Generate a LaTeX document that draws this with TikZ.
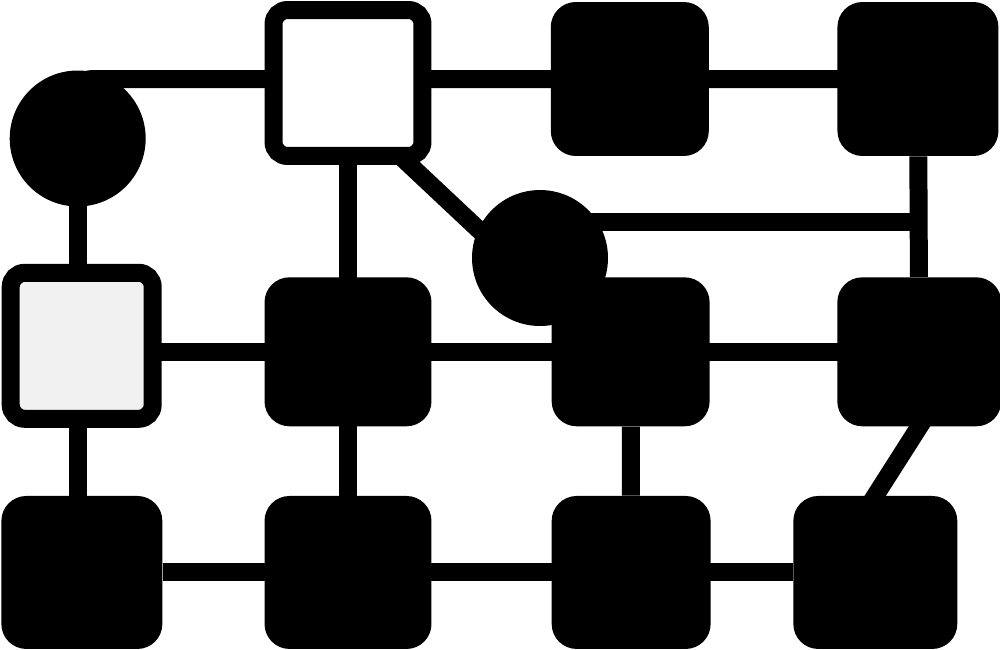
\documentclass[tikz,border=0pt]{standalone}
\usepackage{tikz}
\usetikzlibrary{positioning, backgrounds, calc}
\definecolor{cellgray}{HTML}{F1F1F1}

\begin{document}
\begin{tikzpicture}[
    x=0.02cm, y=-0.02cm,
    blk/.style={rectangle, fill=black, inner sep=0pt, minimum width=3.16cm, minimum height=2.98cm, rounded corners=0.5cm},
    hollow/.style={rectangle, draw=black, line width=0.36cm, inner sep=0pt, rounded corners=0.28cm},
    hub/.style={circle, fill=black, inner sep=0pt, minimum size=2.72cm},
    link/.style={draw=black, line width=0.36cm}
]
    \useasboundingbox (0,0) rectangle (1000,649);

    % Top row
    \node [hollow, fill=white, minimum width=2.98cm, minimum height=2.92cm] (w1) at (348,83) {};
    \node [blk, right=2.38cm of w1, yshift=0.08cm, minimum height=3.08cm] (b12) {};
    \node [blk, right=2.56cm of b12, minimum width=3.22cm, minimum height=3.08cm] (b13) {};

    % Middle row
    \node [blk, below=2.24cm of w1, minimum width=3.34cm] (b22) {};
    \node [blk, right=2.39cm of b22] (b23) {};
    \node [blk, right=2.54cm of b23, minimum width=3.28cm] (b24) {};
    \node [hollow, fill=cellgray, minimum width=2.84cm, minimum height=2.92cm, left=2.05cm of b22, yshift=0.12cm] (g21) {};

    % Hubs
    \node [hub, above=1.14cm of g21, xshift=-0.08cm] (c1) {};
    \node [hub] (c2) at (540,258) {};

    % Bottom row
    \node [blk, below=1.38cm of b22, minimum width=3.34cm, minimum height=3.06cm] (b32) {};
    \node [blk, left=2.03cm of b32, minimum width=3.22cm, minimum height=3.06cm] (b31) {};
    \node [blk, right=2.39cm of b32, minimum width=3.18cm, minimum height=3.06cm] (b33) {};
    \node [blk, right=1.64cm of b33, minimum width=3.28cm, minimum height=3.06cm] (b34) {};

    % Connectors behind the cells
    \begin{scope}[on background layer]
        \draw [link, rounded corners=0.3cm] (c1.center) |- (b13.center);
        \draw [link] (c1.center) -- (c1.center |- b31.center);
        \draw [link] (w1) -- (b32);
        \draw [link] (b23) -- (b33);
        \draw [link] (b13) -- (b24);
        \draw [link] (g21.center |- b22.center) -- (b24.center);
        \draw [link] (b31) -- (b34);
        \draw [link, shorten <=-0.4cm, shorten >=-0.4cm] (w1.-53) -- (c2.155);
        \draw [link] (c2.center |- c2.32) -- (c2.32 -| b13.center);
        \draw [link, shorten <=-0.3cm, shorten >=-0.3cm] (b24.south) -- (b34.north);
    \end{scope}

\end{tikzpicture}
\end{document}
